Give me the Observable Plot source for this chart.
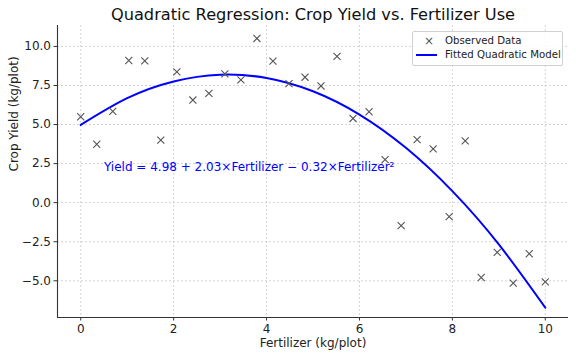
<!DOCTYPE html>
<html>
<head>
<meta charset="utf-8">
<script src="https://cdn.jsdelivr.net/npm/d3@7"></script>
<script src="https://cdn.jsdelivr.net/npm/@observablehq/plot@0.6"></script>
<style>
  html, body { margin: 0; padding: 0; background: #fff; }
  #wrap { position: relative; width: 576px; height: 357px; font-family: "DejaVu Sans", sans-serif; }
  #legend {
    position: absolute; left: 412px; top: 31px; width: 151px; height: 35px;
    border: 1px solid #d0d0d0; border-radius: 2px; background: rgba(255,255,255,0.85);
    font-size: 10.2px; color: #222; box-sizing: border-box;
  }
  .row { position: absolute; left: 0; height: 14px; line-height: 14px; }
  .sym { position: absolute; left: 9px; width: 14px; text-align: center; color: #555; font-size: 12px; }
  .line { position: absolute; left: 3px; top: 6px; width: 21px; height: 2px; background: #0000ff; }
  .lab { position: absolute; left: 32px; white-space: nowrap; }
</style>
</head>
<body>
<div id="wrap"></div>
<script>
const fertilizer = [0, 0.345, 0.69, 1.034, 1.379, 1.724, 2.069, 2.414, 2.759, 3.103,
  3.448, 3.793, 4.138, 4.483, 4.828, 5.172, 5.517, 5.862, 6.207, 6.552,
  6.897, 7.241, 7.586, 7.931, 8.276, 8.621, 8.966, 9.31, 9.655, 10];
const yieldObs = [5.50, 3.74, 5.84, 9.10, 9.08, 4.00, 8.37, 6.57, 7.00, 8.24,
  7.86, 10.51, 9.06, 7.62, 8.03, 7.47, 9.36, 5.39, 5.82, 2.76,
  -1.47, 4.04, 3.44, -0.89, 3.96, -4.79, -3.18, -5.15, -3.27, -5.07];

// Fitted curve values
const curveX = [0, 1, 2, 3, 4, 5, 6, 7, 8, 9, 10];
const curveY = [4.98, 6.69, 7.76, 8.19, 7.98, 7.13, 5.64, 3.51, 0.74, -2.67, -6.72];

const xTicks = [0, 2, 4, 6, 8, 10];
const yTicks = [-5, -2.5, 0, 2.5, 5, 7.5, 10];

const titleText = "Quadratic Regression: Crop Yield vs. Fertilizer Use";
const xLabel = "Fertilizer (kg/plot)";
const yLabel = "Crop Yield (kg/plot)";
const equation = "Yield = 4.98 + 2.03×Fertilizer − 0.32×Fertilizer²";
const legendLabels = ["Observed Data", "Fitted Quadratic Model"];

const points = fertilizer.map((x, i) => ({x, y: yieldObs[i]}));
const curve = curveX.map((x, i) => ({x, y: curveY[i]}));

const xDomain = [-0.5, 10.5];
const yDomain = [-7.35, 11.34];

const chart = Plot.plot({
  width: 576,
  height: 357,
  marginLeft: 57,
  marginRight: 8,
  marginTop: 25,
  marginBottom: 40,
  style: { fontFamily: "DejaVu Sans, sans-serif", fontSize: "12px", color: "#222", background: "#fff" },
  x: { domain: xDomain, ticks: xTicks, tickFormat: d3.format("d"), label: null },
  y: { domain: yDomain, ticks: yTicks, tickFormat: d3.format(".1f"), label: null },
  marks: [
    Plot.gridX(xTicks, { stroke: "#c8c8c8", strokeOpacity: 1, strokeDasharray: "2,2", strokeWidth: 0.8 }),
    Plot.gridY(yTicks, { stroke: "#c8c8c8", strokeOpacity: 1, strokeDasharray: "2,2", strokeWidth: 0.8 }),
    Plot.axisX(xTicks, { tickSize: 3.5, tickPadding: 3, stroke: "#333", fontSize: "12px", tickFormat: d3.format("d") }),
    Plot.axisY(yTicks, { tickSize: 3.5, tickPadding: 3, stroke: "#333", fontSize: "12px", tickFormat: d3.format(".1f") }),
    Plot.ruleX([xDomain[0]], { stroke: "#333", strokeWidth: 1.1 }),
    Plot.ruleY([yDomain[0]], { stroke: "#333", strokeWidth: 1.1 }),
    Plot.line(curve, { x: "x", y: "y", curve: "natural", stroke: "#0000ff", strokeWidth: 2 }),
    Plot.dot(points, { x: "x", y: "y", symbol: "times", r: 3.3, stroke: "#555", strokeWidth: 1.1 }),
    Plot.text([equation], { x: 0.5, y: 2.28, text: d => d, textAnchor: "start", lineAnchor: "middle", fill: "#0000ff", fontSize: "12px" }),
    Plot.text([titleText], { frameAnchor: "top", dy: -11, text: d => d, lineAnchor: "middle", fontSize: "16.2px", fill: "#111" }),
    Plot.text([xLabel], { frameAnchor: "bottom", dy: 26, text: d => d, lineAnchor: "middle", fontSize: "12px", fill: "#222" }),
    Plot.text([yLabel], { frameAnchor: "left", dx: -43, rotate: -90, text: d => d, lineAnchor: "middle", fontSize: "12px", fill: "#222" })
  ]
});

const wrap = document.getElementById("wrap");
wrap.appendChild(chart);

const legend = document.createElement("div");
legend.id = "legend";
legend.innerHTML =
  `<div class="row" style="top:2px;width:100%"><span class="sym">×</span><span class="lab">${legendLabels[0]}</span></div>` +
  `<div class="row" style="top:16px;width:100%"><span class="line"></span><span class="lab">${legendLabels[1]}</span></div>`;
wrap.appendChild(legend);
</script>
</body>
</html>
